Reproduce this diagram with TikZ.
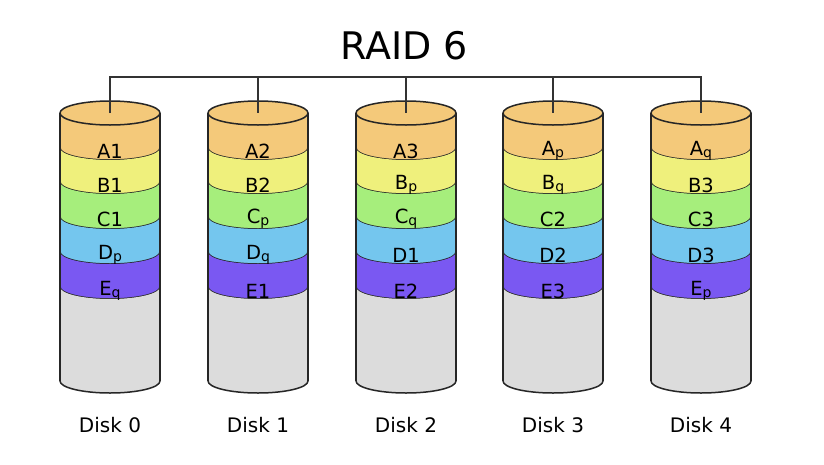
\documentclass[tikz,border=0pt]{standalone}
\usepackage{fontspec}
\setmainfont{DejaVu Sans}
\definecolor{cA}{HTML}{F4C97A}
\definecolor{cB}{HTML}{EFF07C}
\definecolor{cC}{HTML}{A6EE7C}
\definecolor{cD}{HTML}{74C6EE}
\definecolor{cE}{HTML}{7A58F2}
\definecolor{cG}{HTML}{DCDCDC}
\newcommand{\band}[4]{\fill[#4] ({#1-50},#2) -- ({#1-50},#3) arc(180:360:50 and 12) -- ({#1+50},#2) arc(0:-180:50 and 12) -- cycle;
\draw[edge] ({#1-50},#3) arc(180:360:50 and 12);}
\newcommand{\sbp}[1]{{\fontsize{14}{14}\selectfont\raisebox{-2pt}{#1}}}
\newcommand{\disk}[7]{%
\band{#1}{-113}{-148}{cA}\band{#1}{-148}{-182}{cB}\band{#1}{-182}{-217}{cC}\band{#1}{-217}{-252}{cD}\band{#1}{-252}{-287}{cE}\band{#1}{-287}{-381}{cG}
\draw[edge] ({#1-50},-113) -- ({#1-50},-381) ({#1+50},-113) -- ({#1+50},-381);
\filldraw[edge,fill=cA] (#1,-113) ellipse (50 and 12);
\node[lbl] at (#1,-151) {#2};\node[lbl] at (#1,-185) {#3};\node[lbl] at (#1,-219) {#4};
\node[lbl] at (#1,-255) {#5};\node[lbl] at (#1,-291) {#6};
\node[dl] at (#1,-425) {#7};}
\tikzset{edge/.style={draw=black!85,line width=1.5pt},lbl/.style={font=\fontsize{19.5}{19.5}\selectfont,inner sep=0pt},dl/.style={font=\fontsize{20}{20}\selectfont}}
\begin{document}
\begin{tikzpicture}[x=1pt,y=1pt]
\useasboundingbox (0,0) rectangle (824,-464);
\fill[white] (0,0) rectangle (824,-464);
\node[font=\fontsize{38}{38}\selectfont] (t) at (404,-46) {RAID 6};
\disk{110}{A1}{B1}{C1}{D\sbp{p}}{E\sbp{q}}{Disk 0}
\disk{258}{A2}{B2}{C\sbp{p}}{D\sbp{q}}{E1}{Disk 1}
\disk{406}{A3}{B\sbp{p}}{C\sbp{q}}{D1}{E2}{Disk 2}
\disk{553}{A\sbp{p}}{B\sbp{q}}{C2}{D2}{E3}{Disk 3}
\disk{701}{A\sbp{q}}{B3}{C3}{D3}{E\sbp{p}}{Disk 4}
\draw[black!80,line width=1.3pt] (110,-113) -- (110,-77) -- (701,-77) -- (701,-113)
 (258,-77) -- (258,-113) (406,-77) -- (406,-113) (553,-77) -- (553,-113);
\end{tikzpicture}
\end{document}
